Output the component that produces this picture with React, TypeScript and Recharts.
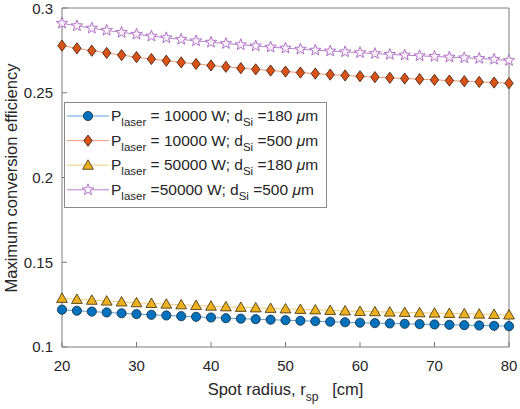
import React from 'react';
import { LineChart, Line, XAxis, YAxis, Legend } from 'recharts';

// spot radius in cm
const radius = [20, 22, 24, 26, 28, 30, 32, 34, 36, 38, 40, 42, 44, 46, 48, 50, 52, 54, 56, 58, 60, 62, 64, 66, 68, 70, 72, 74, 76, 78, 80];

// maximum conversion efficiency for each laser power / Si thickness case
const p10kD180 = [0.1220, 0.1214, 0.1209, 0.1204, 0.1199, 0.1194, 0.1190, 0.1186, 0.1182, 0.1178, 0.1174, 0.1170, 0.1167, 0.1164, 0.1161, 0.1158, 0.1155, 0.1152, 0.1149, 0.1146, 0.1143, 0.1141, 0.1139, 0.1137, 0.1135, 0.1133, 0.1131, 0.1129, 0.1127, 0.1125, 0.1123];
const p10kD500 = [0.2778, 0.2762, 0.2748, 0.2735, 0.2722, 0.2710, 0.2699, 0.2689, 0.2679, 0.2670, 0.2661, 0.2653, 0.2645, 0.2638, 0.2631, 0.2625, 0.2619, 0.2613, 0.2607, 0.2602, 0.2597, 0.2592, 0.2588, 0.2584, 0.2580, 0.2576, 0.2572, 0.2568, 0.2564, 0.2560, 0.2556];
const p50kD180 = [0.1287, 0.1281, 0.1276, 0.1271, 0.1266, 0.1261, 0.1257, 0.1253, 0.1249, 0.1245, 0.1241, 0.1237, 0.1234, 0.1231, 0.1228, 0.1225, 0.1222, 0.1219, 0.1216, 0.1213, 0.1210, 0.1208, 0.1206, 0.1204, 0.1202, 0.1200, 0.1198, 0.1196, 0.1194, 0.1192, 0.1189];
const p50kD500 = [0.2910, 0.2895, 0.2881, 0.2868, 0.2856, 0.2845, 0.2834, 0.2824, 0.2815, 0.2806, 0.2798, 0.2790, 0.2783, 0.2776, 0.2769, 0.2763, 0.2757, 0.2751, 0.2746, 0.2741, 0.2736, 0.2731, 0.2726, 0.2722, 0.2718, 0.2714, 0.2710, 0.2706, 0.2702, 0.2697, 0.2690];

const xTicks = [20, 30, 40, 50, 60, 70, 80];
const yTicks = [0.1, 0.15, 0.2, 0.25, 0.3];

const data = radius.map((r, i) => ({
  r,
  a: p10kD180[i],
  b: p10kD500[i],
  c: p50kD180[i],
  d: p50kD500[i],
}));

const FONT = '"Liberation Sans", Arial, Helvetica, sans-serif';
const AXIS = '#7a7a7a';
const TEXT = '#262626';

type Marker = 'circle' | 'diamond' | 'triangle' | 'star';

const series: { key: string; power: string; thick: string; marker: Marker; fill: string; edge: string; line: string }[] = [
  { key: 'a', power: ' = 10000 W; d', thick: ' =180 ', marker: 'circle', fill: '#0072BD', edge: '#1b2a3a', line: '#5a9fd6' },
  { key: 'b', power: ' = 10000 W; d', thick: ' =500 ', marker: 'diamond', fill: '#D95319', edge: '#3a1a0a', line: '#eb9a78' },
  { key: 'c', power: ' = 50000 W; d', thick: ' =180 ', marker: 'triangle', fill: '#EDB120', edge: '#3a2c08', line: '#f2cf7a' },
  { key: 'd', power: ' =50000 W; d', thick: ' =500 ', marker: 'star', fill: '#f7f0fa', edge: '#a865c0', line: '#b982cc' },
];

function starPath(cx: number, cy: number, ro: number, ri: number) {
  const pts: string[] = [];
  for (let k = 0; k < 10; k++) {
    const rad = k % 2 === 0 ? ro : ri;
    const ang = -Math.PI / 2 + (k * Math.PI) / 5;
    pts.push(`${(cx + rad * Math.cos(ang)).toFixed(2)},${(cy + rad * Math.sin(ang)).toFixed(2)}`);
  }
  return `M${pts.join('L')}Z`;
}

function drawMarker(m: Marker, cx: number, cy: number, fill: string, edge: string, key?: string | number) {
  if (m === 'circle') return <circle key={key} cx={cx} cy={cy} r={4.6} fill={fill} stroke={edge} strokeWidth={0.8} />;
  if (m === 'diamond') {
    const s = 5.6;
    return <path key={key} d={`M${cx},${cy - s}L${cx + s * 0.75},${cy}L${cx},${cy + s}L${cx - s * 0.75},${cy}Z`} fill={fill} stroke={edge} strokeWidth={0.8} />;
  }
  if (m === 'triangle') {
    const s = 5.4;
    return <path key={key} d={`M${cx},${cy - s}L${cx + s},${cy + s * 0.75}L${cx - s},${cy + s * 0.75}Z`} fill={fill} stroke={edge} strokeWidth={0.8} />;
  }
  return <path key={key} d={starPath(cx, cy, 6, 2.5)} fill={fill} stroke={edge} strokeWidth={0.9} />;
}

const LegendBox = () => (
  <svg width={263} height={106} style={{ display: 'block', fontFamily: FONT }}>
    <rect x={0.5} y={0.5} width={262} height={105} fill="#fff" stroke="#8a8a8a" strokeWidth={1} />
    {series.map((s, i) => {
      const y = 14 + i * 24.6;
      return (
        <g key={s.key}>
          <line x1={3} x2={45} y1={y} y2={y} stroke={s.line} strokeWidth={1} />
          {drawMarker(s.marker, 24, y, s.fill, s.edge)}
          <text x={47} y={y + 5} fontSize={15.5} fill={TEXT} xmlSpace="preserve">
            P<tspan fontSize={11.5} dy={5}>laser</tspan>
            <tspan dy={-5}>{s.power}</tspan>
            <tspan fontSize={11.5} dy={5}>Si</tspan>
            <tspan dy={-5}>{s.thick}</tspan>
            <tspan fontStyle="italic">μ</tspan>m
          </text>
        </g>
      );
    })}
  </svg>
);

const XLabel = (props: any) => {
  const { x, width } = props.viewBox;
  return (
    <text x={x + width / 2} y={395} textAnchor="middle" fontSize={16.5} fill={TEXT} fontFamily={FONT} xmlSpace="preserve">
      Spot radius, r<tspan fontSize={12} dy={6}>sp</tspan>
      <tspan dy={-6}>{'   [cm]'}</tspan>
    </text>
  );
};

const YLabel = () => (
  <text x={0} y={0} transform="translate(17,178) rotate(-90)" textAnchor="middle" fontSize={16.5} fill={TEXT} fontFamily={FONT}>
    Maximum conversion efficiency
  </text>
);

export default function App() {
  return (
    <div style={{ position: 'relative', width: 520, height: 409, background: '#fff' }}>
      <style>{'html,body{margin:0;padding:0;overflow:hidden}'}</style>
      <LineChart width={520} height={409} data={data} margin={{ top: 7, right: 10, bottom: 32, left: 14 }} style={{ overflow: 'visible' }}>
        <XAxis
          xAxisId="bottom"
          dataKey="r"
          type="number"
          domain={[20, 80]}
          ticks={xTicks}
          height={30}
          tickSize={-5}
          tickMargin={18}
          stroke={AXIS}
          tick={{ fill: TEXT, fontSize: 15, fontFamily: FONT }}
          label={<XLabel />}
        />
        <XAxis xAxisId="top" orientation="top" dataKey="r" type="number" domain={[20, 80]} ticks={xTicks} height={1} tickSize={-5} tick={false} stroke={AXIS} />
        <YAxis
          yAxisId="left"
          type="number"
          domain={[0.1, 0.3]}
          ticks={yTicks}
          width={48}
          tickSize={-5}
          tickMargin={14}
          stroke={AXIS}
          tick={{ fill: TEXT, fontSize: 15, fontFamily: FONT }}
          tickFormatter={(v: number) => String(v)}
          label={<YLabel />}
        />
        <YAxis yAxisId="right" orientation="right" type="number" domain={[0.1, 0.3]} ticks={yTicks} width={1} tickSize={-5} tick={false} stroke={AXIS} />
        {series.map((s) => (
          <Line
            key={s.key}
            xAxisId="bottom"
            yAxisId="left"
            dataKey={s.key}
            stroke={s.line}
            strokeWidth={1}
            isAnimationActive={false}
            dot={(p: any) => drawMarker(s.marker, p.cx, p.cy, s.fill, s.edge, `${s.key}-${p.index}`)}
          />
        ))}
        <Legend
          layout="vertical"
          align="center"
          verticalAlign="middle"
          content={() => <LegendBox />}
          wrapperStyle={{ position: 'absolute', left: 64, top: 102, width: 263, height: 106 }}
        />
      </LineChart>
    </div>
  );
}
